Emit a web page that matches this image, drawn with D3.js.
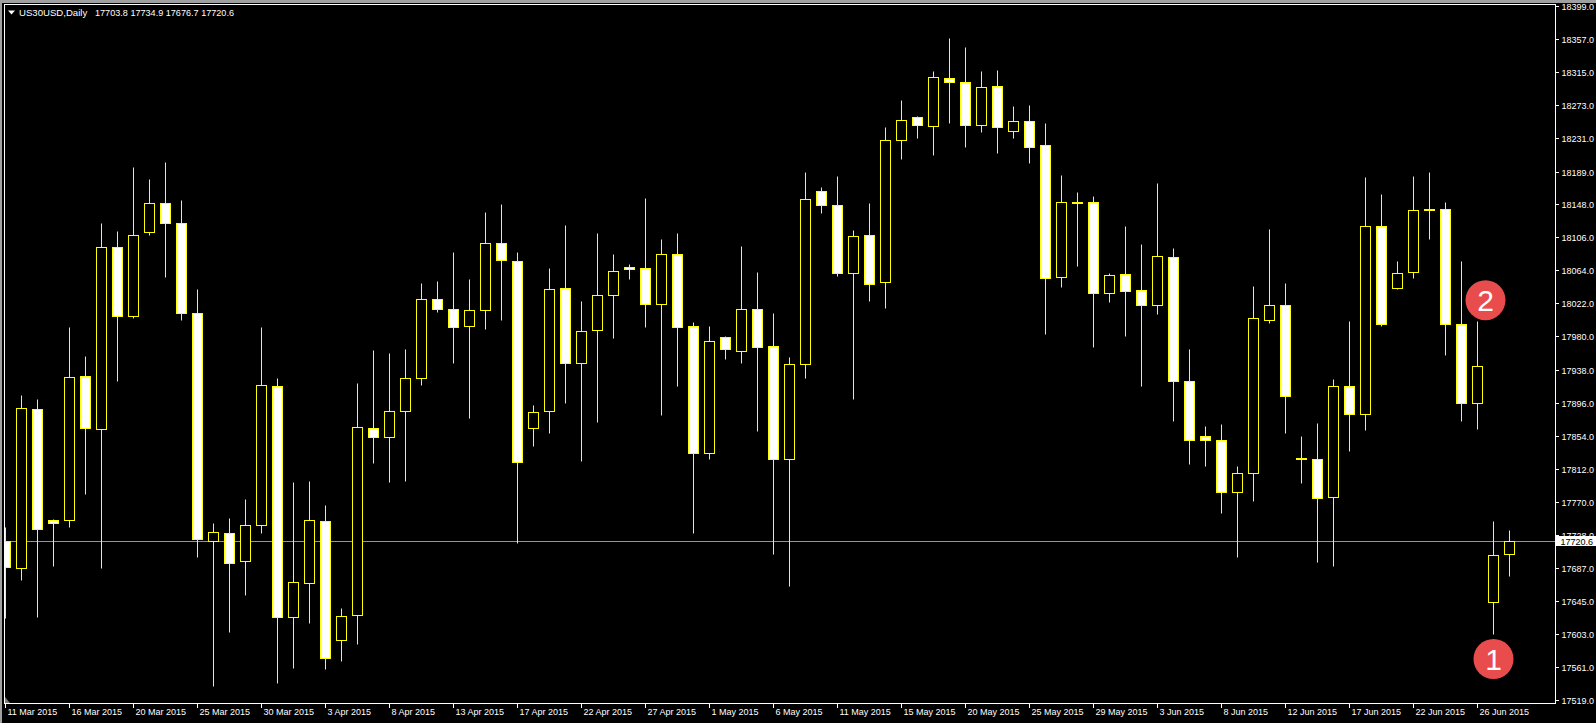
<!DOCTYPE html>
<html><head><meta charset="utf-8">
<script src="https://cdn.jsdelivr.net/npm/d3@7"></script>
<style>
html,body{margin:0;padding:0;background:#000;overflow:hidden}
svg{display:block}
text{font-family:"Liberation Sans",Arial,sans-serif}
</style></head><body>
<svg id="chart" width="1596" height="723"></svg>
<script>
// ---- DATA ----
const dates = ["11 Mar","12 Mar","13 Mar","15 Mar","16 Mar","17 Mar","18 Mar","19 Mar","20 Mar","22 Mar",
"23 Mar","24 Mar","25 Mar","26 Mar","27 Mar","29 Mar","30 Mar","31 Mar","1 Apr","2 Apr",
"3 Apr","5 Apr","6 Apr","7 Apr","8 Apr","9 Apr","10 Apr","12 Apr","13 Apr","14 Apr",
"15 Apr","16 Apr","17 Apr","19 Apr","20 Apr","21 Apr","22 Apr","23 Apr","24 Apr","26 Apr",
"27 Apr","28 Apr","29 Apr","30 Apr","1 May","3 May","4 May","5 May","6 May","7 May",
"8 May","10 May","11 May","12 May","13 May","14 May","15 May","17 May","18 May","19 May",
"20 May","21 May","22 May","24 May","25 May","26 May","27 May","28 May","29 May","31 May",
"1 Jun","2 Jun","3 Jun","4 Jun","5 Jun","7 Jun","8 Jun","9 Jun","10 Jun","11 Jun",
"12 Jun","14 Jun","15 Jun","16 Jun","17 Jun","18 Jun","19 Jun","21 Jun","22 Jun","23 Jun",
"24 Jun","25 Jun","26 Jun","28 Jun","29 Jun"];

const openP = [17720.6,17685.9,17887.6,17746.8,17746.8,17929.4,17862.2,18093.0,18005.5,18112.0,
18148.8,18123.4,18009.3,17721.0,17730.3,17694.8,17740.5,17916.7,17624.7,17667.8,
17745.5,17594.7,17626.4,17864.3,17852.1,17885.0,17926.9,18027.0,18014.4,17992.8,
18013.1,18098.1,18075.2,17864.3,17885.0,18041.0,17945.9,17987.7,18032.1,18067.6,
18066.4,18020.7,18084.1,17992.8,17831.8,17979.3,17962.0,18014.4,17967.5,17824.2,
17944.6,18164.0,18146.2,18060.0,18108.2,18048.6,18228.7,18258.7,18247.2,18307.3,
18302.2,18248.5,18297.2,18240.9,18252.8,18222.3,18055.0,18150.1,18150.1,18035.5,
18058.7,18038.5,18019.5,18080.3,17923.1,17853.4,17848.3,17783.2,17807.3,18001.3,
18019.5,17825.5,17824.2,17776.0,17916.7,17881.2,18119.6,18041.0,18061.3,18142.0,
18142.0,17995.4,17895.2,17643.7,17703.8];

const highP = [17738.4,17905.3,17900.7,17748.5,17992.0,17955.2,18123.8,18113.7,18194.8,18179.6,
18201.2,18153.0,18040.1,17743.4,17749.8,17773.9,17992.0,17927.3,17795.0,17796.7,
17766.3,17635.7,17921.0,17962.8,17959.0,17964.0,18047.8,18050.3,18087.0,18052.8,
18137.8,18147.9,18087.0,17893.0,18066.8,18121.3,18024.9,18111.2,18084.5,18071.8,
18155.5,18103.1,18111.2,17998.3,17993.2,17980.5,18094.7,18061.7,18009.7,17953.9,
18188.5,18169.5,18183.4,18115.0,18149.2,18245.6,18279.8,18259.5,18316.6,18358.4,
18347.0,18316.6,18317.8,18272.2,18273.5,18250.6,18184.7,18163.1,18158.1,18060.0,
18120.0,18097.2,18174.6,18092.1,17964.1,17866.4,17869.0,17815.7,18044.0,18116.2,
18047.8,17853.8,17870.2,17926.0,17999.6,18182.2,18160.6,18075.7,18183.4,18188.5,
18150.5,18075.7,17999.6,17746.0,17734.9];

const lowP = [17622.5,17671.6,17624.7,17689.3,17738.8,17780.6,17686.8,17923.9,18003.8,18109.0,
18055.8,18001.2,17700.7,17537.0,17605.6,17652.1,17731.2,17541.0,17560.0,17617.0,
17558.7,17568.9,17590.4,17820.0,17795.8,17797.1,17918.9,18011.4,17946.7,17877.0,
17989.8,18001.3,17718.5,17841.5,17858.0,17896.0,17822.5,17871.9,17978.4,18053.3,
17992.4,17880.8,17917.6,17731.2,17825.0,17951.8,17946.7,17860.5,17704.5,17664.0,
17927.7,18136.9,18057.0,17901.1,18025.3,18016.5,18205.4,18232.0,18210.5,18251.0,
18220.6,18239.6,18213.0,18232.0,18200.3,17983.5,18043.1,18069.7,17967.0,18024.1,
17981.0,17917.6,18008.8,17873.2,17818.6,17816.1,17756.5,17700.7,17771.8,17997.4,
17858.0,17794.6,17694.4,17689.3,17835.1,17861.7,17993.6,18040.0,18054.5,18104.0,
17956.9,17873.2,17863.0,17602.3,17676.7];

const closeP = [17687.2,17888.8,17735.4,17743.0,17928.1,17863.5,18093.0,18005.5,18108.2,18148.8,
18123.4,18009.3,17722.7,17731.6,17692.3,17740.5,17918.0,17623.8,17668.2,17746.8,
17571.8,17625.1,17864.7,17852.1,17885.0,17926.9,18027.0,18014.4,17991.6,18013.1,
18098.1,18076.5,17821.2,17883.8,18039.7,17945.9,17986.5,18032.1,18062.5,18065.1,
18020.7,18084.1,17992.4,17831.8,17973.8,17963.6,18014.4,17967.0,17824.2,17944.6,
18153.8,18146.2,18060.0,18106.9,18046.9,18228.7,18254.0,18247.7,18308.6,18302.2,
18248.5,18295.9,18246.0,18252.8,18220.6,18053.7,18150.1,18149.3,18034.6,18057.5,
18037.2,18019.5,18081.6,17923.1,17848.3,17848.3,17782.3,17806.4,18003.0,18019.5,
17904.9,17824.5,17774.7,17916.7,17881.2,18119.6,17996.2,18060.0,18139.9,18141.2,
17995.4,17895.2,17942.1,17702.4,17720.6];

const yTickLabels = ["18399.0","18357.0","18315.0","18273.0","18231.0","18189.0","18148.0","18106.0",
"18064.0","18022.0","17980.0","17938.0","17896.0","17854.0","17812.0","17770.0","17728.0","17687.0",
"17645.0","17603.0","17561.0","17519.0"];

const xTickIndex = [0,4,8,12,16,20,24,28,32,36,40,44,48,52,56,60,64,68,72,76,80,84,88,92];
const xTickLabels = ["11 Mar 2015","16 Mar 2015","20 Mar 2015","25 Mar 2015","30 Mar 2015","3 Apr 2015",
"8 Apr 2015","13 Apr 2015","17 Apr 2015","22 Apr 2015","27 Apr 2015","1 May 2015","6 May 2015",
"11 May 2015","15 May 2015","20 May 2015","25 May 2015","29 May 2015","3 Jun 2015","8 Jun 2015",
"12 Jun 2015","17 Jun 2015","22 Jun 2015","26 Jun 2015"];

const titleSymbol = "US30USD,Daily";
const titleQuote = "17703.8 17734.9 17676.7 17720.6";
const bidPrice = 17720.6;
const bidLabel = "17720.6";

const markerLabels = ["1","2"];
const markerIndex = [93, 92.5];
const markerPrice = [17571, 18026];

// ---- CHART ----
const svg = d3.select("#chart");
const W = 1596, H = 723;
const plot = {left:4, top:4, right:1555, bottom:703};

const x = d3.scaleLinear().domain([0, dates.length - 1]).range([5.5, 5.5 + 16*(dates.length - 1)]);
const y = d3.scaleLinear().domain([17519, 18399]).range([700, 6]);
const py = v => Math.round(y(v)) + 0.5;

svg.append("rect").attr("width", W).attr("height", H).attr("fill", "#000");
// window border strips
svg.append("rect").attr("x",0).attr("y",0).attr("width",W).attr("height",3).attr("fill","#a0a0a0");
svg.append("rect").attr("x",0).attr("y",0).attr("width",2).attr("height",H).attr("fill","#a0a0a0");

svg.append("defs").append("clipPath").attr("id","clip")
  .append("rect").attr("x",5).attr("y",5).attr("width",plot.right-5).attr("height",plot.bottom-5);

const g = svg.append("g").attr("clip-path","url(#clip)");

// bid line
g.append("line")
  .attr("x1", plot.left).attr("x2", plot.right)
  .attr("y1", py(bidPrice)).attr("y2", py(bidPrice))
  .attr("stroke", "#8a96a3").attr("stroke-width", 1);

const bars = d3.range(dates.length).map(i => ({i, o:openP[i], h:highP[i], l:lowP[i], c:closeP[i]}));

const cg = g.selectAll("g.candle").data(bars).join("g").attr("class","candle");
cg.append("line")
  .attr("x1", d => x(d.i)).attr("x2", d => x(d.i))
  .attr("y1", d => py(d.h)).attr("y2", d => py(d.l))
  .attr("stroke", "#ffff00").attr("stroke-width", 1);
cg.append("rect")
  .attr("x", d => x(d.i) - 5)
  .attr("width", 10)
  .attr("y", d => py(Math.max(d.o, d.c)))
  .attr("height", d => Math.max(1, py(Math.min(d.o, d.c)) - py(Math.max(d.o, d.c))))
  .attr("fill", d => d.c >= d.o ? "#000000" : "#ffffff")
  .attr("stroke", "#ffff00").attr("stroke-width", 1);

// small marker at bottom-left corner
svg.append("path").attr("d","M5,697 L5,703 L10,703 Z").attr("fill","#7a7a7a");

// frame
svg.append("rect")
  .attr("x", plot.left + 0.5).attr("y", plot.top + 0.5)
  .attr("width", plot.right - plot.left).attr("height", plot.bottom - plot.top)
  .attr("fill", "none").attr("stroke", "#ffffff").attr("stroke-width", 1);

// y axis ticks + labels
const ya = svg.append("g");
yTickLabels.forEach(lbl => {
  const v = parseFloat(lbl);
  const yy = py(v);
  ya.append("line").attr("x1", plot.right + 1).attr("x2", plot.right + 4)
    .attr("y1", yy).attr("y2", yy).attr("stroke", "#fff").attr("stroke-width", 1);
  ya.append("text").attr("x", 1561.5).attr("y", yy).attr("dy", "0.35em")
    .attr("fill", "#fff").attr("font-size", "9px").text(lbl);
});

// bid price label
const by = py(bidPrice);
svg.append("rect").attr("x", 1556).attr("y", by - 5.5).attr("width", 40).attr("height", 10).attr("fill", "#fff");
svg.append("text").attr("x", 1560.5).attr("y", by).attr("dy", "0.35em")
  .attr("fill", "#000").attr("font-size", "9px").text(bidLabel);

// x axis ticks + labels
const xa = svg.append("g");
xTickIndex.forEach((idx, k) => {
  const xx = x(idx);
  xa.append("line").attr("x1", xx).attr("x2", xx).attr("y1", plot.bottom + 1).attr("y2", plot.bottom + 5)
    .attr("stroke", "#fff").attr("stroke-width", 1);
  xa.append("text").attr("x", xx + 2).attr("y", 715)
    .attr("fill", "#fff").attr("font-size", "9px").text(xTickLabels[k]);
});

// title
svg.append("path").attr("d", "M8,10.5 L15,10.5 L11.5,14.5 Z").attr("fill", "#fff");
svg.append("text").attr("x", 19).attr("y", 15.5).attr("fill", "#fff").attr("font-size", "9.6px").text(titleSymbol);
svg.append("text").attr("x", 95).attr("y", 15.5).attr("fill", "#fff").attr("font-size", "9.6px")
  .attr("textLength", 139).attr("lengthAdjust", "spacingAndGlyphs").text(titleQuote);

// markers
const mg = svg.append("g");
markerLabels.forEach((lbl, k) => {
  const cx = x(markerIndex[k]), cy = y(markerPrice[k]);
  mg.append("circle").attr("cx", cx).attr("cy", cy).attr("r", 20).attr("fill", "#e84c4c");
  mg.append("text").attr("x", cx).attr("y", cy).attr("dy", "0.36em").attr("text-anchor", "middle")
    .attr("fill", "#fff").attr("font-size", "30px").text(lbl);
});
</script>
</body></html>
